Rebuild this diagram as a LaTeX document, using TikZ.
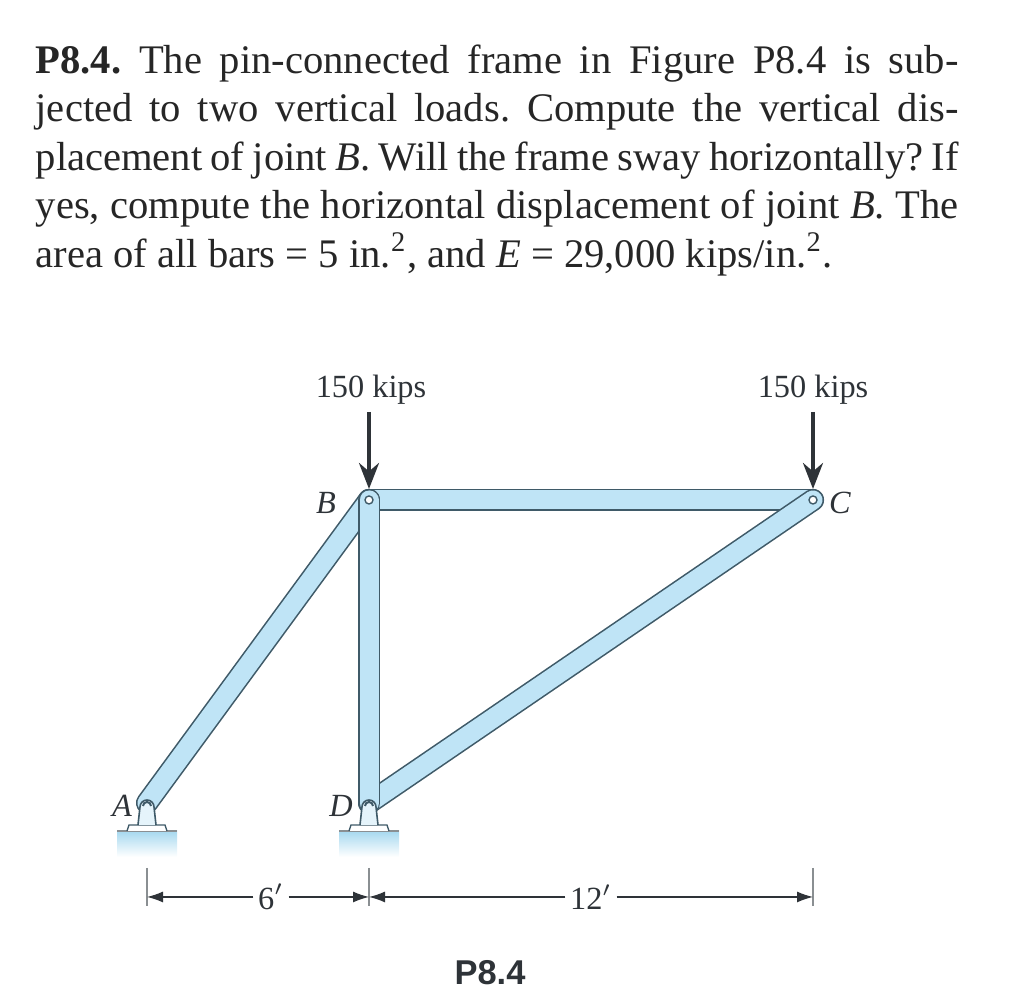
\documentclass[tikz,border=0pt]{standalone}
\usepackage{fontspec}
\setmainfont{Liberation Serif}
\setsansfont{Liberation Sans}
\usetikzlibrary{arrows.meta}
\definecolor{barblue}{HTML}{BFE4F6}
\definecolor{groundblue}{HTML}{A6D8EF}
\definecolor{barline}{HTML}{3F5A68}
\definecolor{dimgray}{HTML}{8A8F92}
\definecolor{inkgray}{HTML}{2E3338}
\tikzset{
  bar/.style={draw=barline, line width=0.16mm, double=barblue, double distance=1.9mm, line cap=round},
  pin/.style={shape=circle, draw=barline, fill=white, line width=0.14mm, inner sep=0pt, minimum size=0.8mm},
  load/.style={draw=inkgray, line width=0.38mm, -{Stealth[length=2.6mm, width=2mm]}},
  dimline/.style={draw=inkgray, line width=0.12mm, -{Latex[length=1.6mm, width=1.1mm]}},
  extline/.style={draw=dimgray, line width=0.2mm},
  lab/.style={text=inkgray, font=\fontsize{9.2pt}{11pt}\selectfont, inner sep=0pt},
  ground/.style={top color=groundblue, bottom color=white, draw=none}
}
\begin{document}
\begin{tikzpicture}
\useasboundingbox (0,0) rectangle (10.24,10);
\node[text width=9.23cm, align=justify, anchor=north west, inner sep=0pt, text=black!85, font=\fontsize{11.55pt}{13.8pt}\selectfont] (text) at (0.35,9.56) {\frenchspacing
\textbf{P8.4.} The pin-connected frame in Figure P8.4 is sub-\linebreak
jected to two vertical loads. Compute the vertical dis-\linebreak
placement of joint \textit{B}. Will the frame sway horizontally? If\linebreak
yes, compute the horizontal displacement of joint \textit{B}. The\linebreak
area of all bars = 5 in.\textsuperscript{2}, and \textit{E} = 29,000 kips/in.\textsuperscript{2}.};
\coordinate (A) at (1.47,1.97);
\coordinate (D) at (3.69,1.97);
\coordinate (B) at (3.69,5.00);
\coordinate (C) at (8.13,5.00);
\coordinate (loadB) at (3.69,5.88);
\coordinate (loadC) at (8.13,5.88);
% bars
\path [bar] (B) -- (C);
\path [bar] (C) -- (D);
\path [bar] (A) -- (B);
\path [bar] (D) -- (B);
\node[pin] (pinB) at (B) {};
\node[pin] (pinC) at (C) {};
% supports
\foreach \p in {A,D} {
\begin{scope}[shift={(\p)}]
\fill[ground] (-0.30,-0.28) rectangle (0.30,-0.54);
\draw[dimgray, line width=0.25mm] (-0.30,-0.28) -- (0.30,-0.28);
\draw[barline, fill=white, line width=0.14mm] (-0.20,-0.28) -- (-0.18,-0.22) -- (0.18,-0.22) -- (0.20,-0.28);
\draw[barline, fill=barblue!40, line width=0.16mm] (-0.09,-0.22) -- (-0.07,-0.04) arc[start angle=180, end angle=0, radius=0.07] -- (0.09,-0.22);
\draw[barline, line width=0.2mm] (-0.04,-0.03) arc[start angle=180, end angle=0, radius=0.04];
\end{scope}
}
% loads
\path [load] (loadB) -- ([yshift=0.11cm]B);
\path [load] (loadC) -- ([yshift=0.11cm]C);
\node[lab] (lB) at (3.71,6.10) {150 kips};
\node[lab] (lC) at (8.13,6.10) {150 kips};
\node[lab] (nA) at (1.22,1.94) {\textit{A}};
\node[lab] (nD) at (3.41,1.94) {\textit{D}};
\node[lab] (nB) at (3.26,4.97) {\textit{B}};
\node[lab] (nC) at (8.40,4.97) {\textit{C}};
% dimensions
\coordinate (extA) at (1.47,1.32);
\coordinate (extA2) at (1.47,0.94);
\coordinate (extD) at (3.69,1.32);
\coordinate (extD2) at (3.69,0.94);
\coordinate (extC) at (8.13,1.32);
\coordinate (extC2) at (8.13,0.94);
\path [extline] (extA) -- (extA2);
\path [extline] (extD) -- (extD2);
\path [extline] (extC) -- (extC2);
\node[lab, inner xsep=0.4mm] (six) at (2.71,1.03) {6$'$};
\node[lab, inner xsep=0.4mm] (twelve) at (5.91,1.03) {12$'$};
\coordinate (a1) at (1.47,1.03);
\coordinate (d1) at (3.69,1.03);
\coordinate (c1) at (8.13,1.03);
\path [dimline] (six) -- (a1);
\path [dimline] (six) -- (d1);
\path [dimline] (twelve) -- (d1);
\path [dimline] (twelve) -- (c1);
\node[font=\sffamily\bfseries\fontsize{9.8pt}{11pt}\selectfont, text=inkgray, inner sep=0pt] (cap) at (4.90,0.27) {P8.4};
\end{tikzpicture}
\end{document}
